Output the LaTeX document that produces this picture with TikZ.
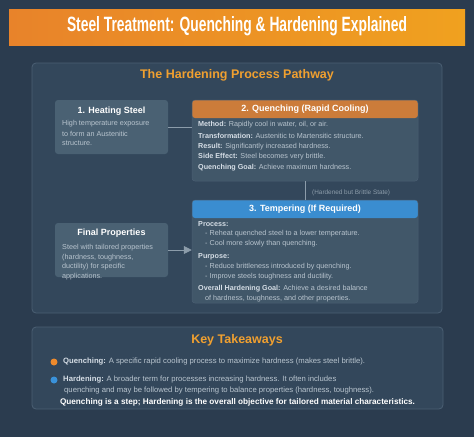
\documentclass[tikz,border=0pt]{standalone}
\usepackage{fontspec}
\setmainfont{Liberation Sans}
\usetikzlibrary{arrows.meta}
\definecolor{bg}{HTML}{2B3C4F}
\definecolor{panel}{HTML}{33475B}
\definecolor{panelline}{HTML}{4B5F73}
\definecolor{tleft}{HTML}{E8832A}
\definecolor{tright}{HTML}{F0A11F}
\definecolor{accent}{HTML}{F0A030}
\definecolor{sidebox}{HTML}{4A6173}
\definecolor{bigbox}{HTML}{415769}
\definecolor{qhead}{HTML}{CC7C3A}
\definecolor{thead}{HTML}{3A8DD0}
\definecolor{bodytxt}{HTML}{B9C5CF}
\definecolor{boldtxt}{HTML}{D6DEE6}
\definecolor{conn}{HTML}{8C9CAA}
\definecolor{dotblue}{HTML}{3A92DA}
\definecolor{dotorange}{HTML}{EE8A2C}
\begin{document}
\begin{tikzpicture}[x=1pt,y=-1pt,
  panelbox/.style={draw=panelline, fill=panel, rounded corners=4pt, line width=0.8pt, inner sep=0pt},
  sidenode/.style={fill=sidebox, rounded corners=3pt, inner sep=0pt, minimum width=113pt, minimum height=54pt},
  quenchnode/.style={fill=bigbox, draw=panelline, line width=0.5pt, rounded corners=3pt, inner sep=0pt,
     path picture={\fill[qhead] (path picture bounding box.north west) rectangle ([yshift=-18pt]path picture bounding box.north east);}},
  tempernode/.style={fill=bigbox, draw=panelline, line width=0.5pt, rounded corners=3pt, inner sep=0pt,
     path picture={\fill[thead] (path picture bounding box.north west) rectangle ([yshift=-18pt]path picture bounding box.north east);}},
  boxtitle/.style={inner sep=0pt, text=white, font=\fontsize{9}{10}\selectfont\bfseries},
  sidebody/.style={anchor=west, inner sep=0pt, text=bodytxt, font=\fontsize{7.2}{8}\selectfont},
  body/.style={anchor=west, inner sep=0pt, text=bodytxt, font=\fontsize{7.2}{8}\selectfont},
  keybody/.style={anchor=west, inner sep=0pt, text=bodytxt, font=\fontsize{7.7}{9}\selectfont},
  sectitle/.style={inner sep=0pt, text=accent, font=\fontsize{12.5}{14}\selectfont\bfseries},
  conline/.style={draw=conn, line width=0.9pt},
  dotnode/.style={circle, inner sep=0pt, minimum size=7pt}
]
\fill[bg] (0,0) rectangle (474,437);
\useasboundingbox (0,0) rectangle (474,437);

% title bar
\shade[left color=tleft, right color=tright] (9,9) rectangle (465,45);
\node[inner sep=0pt, text=white] (title) at (237,26.5)
  {\resizebox{340pt}{15pt}{\bfseries Steel Treatment: Quenching \& Hardening Explained}};

% main panel
\node[panelbox, minimum width=410pt, minimum height=250pt] (mainpanel) at (237,188) {};
\node[sectitle] (pathtitle) at (237,75) {The Hardening Process Pathway};

% boxes
\node[sidenode] (heat) at (111.5,127) {};
\node[quenchnode, minimum width=226pt, minimum height=81pt] (quench) at (305,140.5) {};
\node[tempernode, minimum width=226pt, minimum height=103pt] (temper) at (305,251.5) {};
\node[sidenode] (final) at (111.5,250) {};

% connectors
\draw[conline] (heat.east) -- (heat.east -| quench.west);
\draw[conline] (quench.south) -- (temper.north);
\draw[conline, -{Triangle[length=8pt,width=8pt]}] (final.east) -- (final.east -| temper.west);
\node[anchor=west, inner sep=0pt, text=conn, font=\fontsize{6.4}{7}\selectfont] (statelbl) at (312,192.5) {(Hardened but Brittle State)};

% heating steel text
\node[boxtitle] (heatt) at (111.5,111) {1. Heating Steel};
\node[sidebody] (h1) at (62,124) {High temperature exposure};
\node[sidebody] (h2) at (62,133.5) {to form an Austenitic};
\node[sidebody] (h3) at (62,143) {structure.};

% quenching text
\node[boxtitle] (quencht) at (305,109.5) {2. Quenching (Rapid Cooling)};
\node[body] (q1) at (198,125) {\textcolor{boldtxt}{\bfseries Method:} Rapidly cool in water, oil, or air.};
\node[body] (q2) at (198,136) {\textcolor{boldtxt}{\bfseries Transformation:} Austenitic to Martensitic structure.};
\node[body] (q3) at (198,146.5) {\textcolor{boldtxt}{\bfseries Result:} Significantly increased hardness.};
\node[body] (q4) at (198,157) {\textcolor{boldtxt}{\bfseries Side Effect:} Steel becomes very brittle.};
\node[body] (q5) at (198,167.5) {\textcolor{boldtxt}{\bfseries Quenching Goal:} Achieve maximum hardness.};

% tempering text
\node[boxtitle] (tempert) at (305,209.5) {3. Tempering (If Required)};
\node[body] (t1) at (198,224.5) {\textcolor{boldtxt}{\bfseries Process:}};
\node[body] (t2) at (205,234) {- Reheat quenched steel to a lower temperature.};
\node[body] (t3) at (205,244) {- Cool more slowly than quenching.};
\node[body] (t4) at (198,256.5) {\textcolor{boldtxt}{\bfseries Purpose:}};
\node[body] (t5) at (205,266.5) {- Reduce brittleness introduced by quenching.};
\node[body] (t6) at (205,276.5) {- Improve steels toughness and ductility.};
\node[body] (t7) at (198,289) {\textcolor{boldtxt}{\bfseries Overall Hardening Goal:} Achieve a desired balance};
\node[body] (t8) at (205,299) {of hardness, toughness, and other properties.};

% final properties text
\node[boxtitle] (finalt) at (111.5,233) {Final Properties};
\node[sidebody] (f1) at (62,248) {Steel with tailored properties};
\node[sidebody] (f2) at (62,257.5) {(hardness, toughness,};
\node[sidebody] (f3) at (62,267) {ductility) for specific};
\node[sidebody] (f4) at (62,276.5) {applications.};

% key takeaways panel
\node[panelbox, minimum width=411pt, minimum height=82pt] (keypanel) at (237.5,368) {};
\node[sectitle] (keytitle) at (237,340) {Key Takeaways};
\node[dotnode, fill=dotorange] (dot1) at (54,362) {};
\node[keybody] (k1) at (63,362) {\textcolor{boldtxt}{\bfseries Quenching:} A specific rapid cooling process to maximize hardness (makes steel brittle).};
\node[dotnode, fill=dotblue] (dot2) at (54,380) {};
\node[keybody] (k2) at (63,380) {\textcolor{boldtxt}{\bfseries Hardening:} A broader term for processes increasing hardness. It often includes};
\node[keybody] (k3) at (64,391) {quenching and may be followed by tempering to balance properties (hardness, toughness).};
\node[inner sep=0pt, text=white, font=\fontsize{8.2}{9}\selectfont\bfseries] (k4) at (237.5,402.5)
  {Quenching is a step; Hardening is the overall objective for tailored material characteristics.};
\end{tikzpicture}
\end{document}
